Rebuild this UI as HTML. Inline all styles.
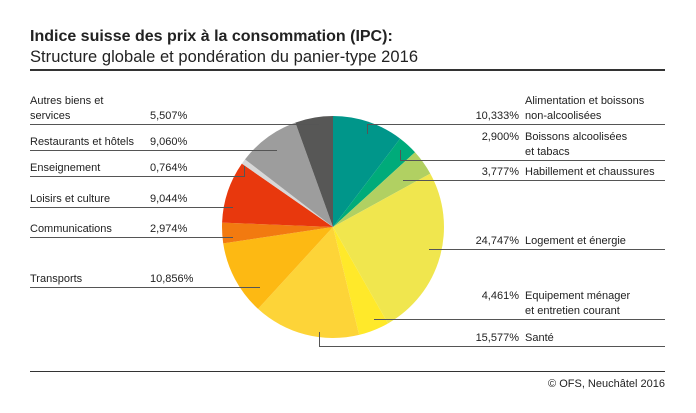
<!DOCTYPE html>
<html><head><meta charset="utf-8"><style>
body{margin:0;background:#fff;}
svg{display:block;font-family:"Liberation Sans",Arial,sans-serif;}
text{fill:#222;font-size:11px;}
</style></head><body>
<svg id="s" width="696" height="413" viewBox="0 0 696 413" xmlns="http://www.w3.org/2000/svg">
<text x="30" y="41" style="font-size:16px;font-weight:bold">Indice suisse des prix à la consommation (IPC):</text>
<text x="30" y="62" style="font-size:16.5px" textLength="388">Structure globale et pondération du panier-type 2016</text>
<rect x="30" y="69" width="635" height="2" fill="#333"/>
<g id="pie"></g>
<g stroke="#555" stroke-width="1" fill="none">
<path d="M30 124.5H319"/>
<path d="M30 150.5H277"/>
<path d="M30 176.5H244.5V166"/>
<path d="M30 207.5H233"/>
<path d="M30 237.5H233"/>
<path d="M30 287.5H260"/>
<path d="M665 124.5H367.5V134"/>
<path d="M665 160.5H400.5V150"/>
<path d="M665 180.5H403"/>
<path d="M665 249.5H429"/>
<path d="M665 319.5H374"/>
<path d="M665 346.5H319.5V332"/>
</g>
<text x="30" y="104">Autres biens et</text>
<text x="30" y="119">services</text>
<text x="150" y="119">5,507%</text>
<text x="30" y="145">Restaurants et hôtels</text>
<text x="150" y="145">9,060%</text>
<text x="30" y="171">Enseignement</text>
<text x="150" y="171">0,764%</text>
<text x="30" y="202">Loisirs et culture</text>
<text x="150" y="202">9,044%</text>
<text x="30" y="232">Communications</text>
<text x="150" y="232">2,974%</text>
<text x="30" y="282">Transports</text>
<text x="150" y="282">10,856%</text>
<g text-anchor="end">
<text x="519" y="119">10,333%</text>
<text x="519" y="140">2,900%</text>
<text x="519" y="175">3,777%</text>
<text x="519" y="244">24,747%</text>
<text x="519" y="299">4,461%</text>
<text x="519" y="341">15,577%</text>
</g>
<text x="525" y="104">Alimentation et boissons</text>
<text x="525" y="119">non-alcoolisées</text>
<text x="525" y="140">Boissons alcoolisées</text>
<text x="525" y="155">et tabacs</text>
<text x="525" y="175">Habillement et chaussures</text>
<text x="525" y="244">Logement et énergie</text>
<text x="525" y="299">Equipement ménager</text>
<text x="525" y="314">et entretien courant</text>
<text x="525" y="341">Santé</text>
<rect x="30" y="371" width="635" height="1" fill="#333"/>
<text x="665" y="387" text-anchor="end">© OFS, Neuchâtel 2016</text>
</svg>
<script>
var d=[[10.333,"#00968a"],[2.9,"#00ab7a"],[3.777,"#b1d062"],[24.747,"#f0e64e"],[4.461,"#ffe92a"],[15.577,"#fdd438"],[10.856,"#fdb913"],[2.974,"#f27a10"],[9.044,"#e8380d"],[0.764,"#d8d8d8"],[9.06,"#9d9d9d"],[5.507,"#575756"]];
var cx=333,cy=227,r=111,tot=0;d.forEach(function(x){tot+=x[0]});
var a=0,g=document.getElementById("pie"),h="";
d.forEach(function(x){var a2=a+x[0]/tot*2*Math.PI;
var x1=cx+r*Math.sin(a),y1=cy-r*Math.cos(a),x2=cx+r*Math.sin(a2),y2=cy-r*Math.cos(a2);
h+='<path fill="'+x[1]+'" d="M'+cx+' '+cy+'L'+x1.toFixed(2)+' '+y1.toFixed(2)+'A'+r+' '+r+' 0 '+(a2-a>Math.PI?1:0)+' 1 '+x2.toFixed(2)+' '+y2.toFixed(2)+'Z"/>';a=a2;});
g.innerHTML=h;
</script>
</body></html>
